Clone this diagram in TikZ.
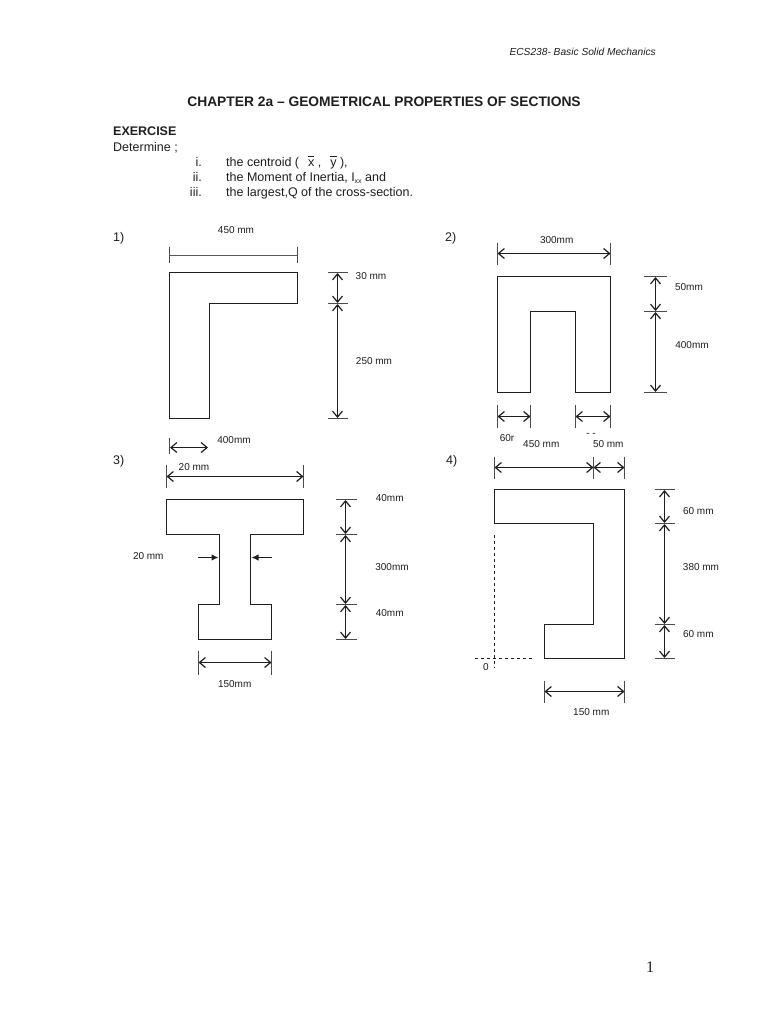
\documentclass[tikz,border=0pt]{standalone}
\usepackage{fontspec}
\setmainfont{Liberation Sans}
\newfontfamily\pagefont{Liberation Serif}
\usetikzlibrary{arrows.meta}
\definecolor{ink}{gray}{0.12}
\tikzset{
  outline/.style={draw=ink,line width=1.2pt,line join=miter},
  dimline/.style={draw=ink,line width=1.2pt,{Straight Barb[length=6pt,width=10pt,line width=1.2pt]}-{Straight Barb[length=6pt,width=10pt,line width=1.2pt]}},
  plainline/.style={draw=ink!75,line width=1.5pt},
  tick/.style={draw=ink!80,line width=1pt},
  pointer/.style={draw=ink,line width=1.2pt,-{Latex[length=7pt,width=6.5pt]}},
  datum/.style={draw=ink,line width=0.9pt,dash pattern=on 3pt off 3pt},
  lab/.style={inner sep=0pt,font=\fontsize{10}{12}\selectfont,text=ink,anchor=mid,yshift=-1pt},
  body/.style={inner sep=0pt,font=\fontsize{12.5}{14}\selectfont,text=ink,anchor=mid west,yshift=-2pt},
  numeral/.style={inner sep=0pt,font=\fontsize{12.5}{14}\selectfont,text=ink,anchor=mid east,yshift=-2pt},
}
% horizontal dimension: name, x1, x2, y, tick top, tick bottom
\newcommand{\hdim}[7][dimline]{%
  \coordinate (#2a) at (#3,#5);\coordinate (#2b) at (#4,#5);
  \draw[#1] (#2a) -- (#2b);
  \coordinate (#2at) at (#3,#6);\coordinate (#2ab) at (#3,#7);
  \coordinate (#2bt) at (#4,#6);\coordinate (#2bb) at (#4,#7);
  \draw[tick] (#2at) -- (#2ab);
  \draw[tick] (#2bt) -- (#2bb);
}
% vertical dimension: name, x, y1, y2
\newcommand{\vdim}[4]{%
  \coordinate (#1a) at (#2,#3);\coordinate (#1b) at (#2,#4);
  \draw[dimline] (#1a) -- (#1b);
}
% extension tick: name, x1, x2, y
\newcommand{\etick}[4]{%
  \coordinate (#1l) at (#2,#4);\coordinate (#1r) at (#3,#4);
  \draw[tick] (#1l) -- (#1r);
}
\newcommand{\barred}[1]{$\overline{\mbox{#1\rule{0pt}{9.5pt}}}$}
\begin{document}
\begin{tikzpicture}[x=1pt,y=-1pt]
\useasboundingbox[fill=white] (0,0) rectangle (768,1024);

% header
\node[lab,anchor=mid east,font=\fontsize{10.2}{12}\itshape] (hdr) at (656,51.5) {ECS238- Basic Solid Mechanics};
\node[inner sep=0pt,anchor=mid,text=ink,font=\fontsize{13.8}{15}\bfseries] (title) at (384,104) {CHAPTER 2a – GEOMETRICAL PROPERTIES OF SECTIONS};
\node[body,font=\fontsize{12.5}{14}\bfseries] (ex) at (113,131) {EXERCISE};
\node[body] (det) at (113,146.5) {Determine ;};
\node[numeral] (n1) at (202,162) {i.};
\node[numeral] (n2) at (202,177) {ii.};
\node[numeral] (n3) at (202,192) {iii.};
\node[body] (t1) at (226,162) {the centroid (\hspace{9pt}\barred{x} ,\hspace{9pt}\barred{y} ),};
\node[body] (t2) at (226,177) {the Moment of Inertia, I\raisebox{-1.5pt}{\fontsize{7}{7}\selectfont xx} and};
\node[body] (t3) at (226,192) {the largest,Q of the cross-section.};
\node[inner sep=0pt,text=ink,font=\pagefont\fontsize{16}{18}\selectfont] (pg) at (650,967) {1};

\node[body] (q1) at (113,237) {1)};
\node[body] (q2) at (445,237) {2)};
\node[body] (q3) at (113,460) {3)};
\node[body] (q4) at (446,460) {4)};

% Figure 1
\draw[outline] (169.5,272.5) -- (297.5,272.5) -- (297.5,303.5) -- (209.5,303.5) -- (209.5,418.5) -- (169.5,418.5) -- cycle;
\hdim[plainline]{d1}{169.5}{297.5}{255.5}{246.5}{262.5}
\etick{e1a}{327.5}{347.5}{272.5}
\etick{e1b}{327.5}{347.5}{303.5}
\etick{e1c}{327.5}{347.5}{418.5}
\vdim{v1a}{337.5}{273}{303}
\vdim{v1b}{337.5}{304}{418}
\coordinate (d2a) at (170,447.5);\coordinate (d2b) at (208,447.5);
\draw[dimline] (d2a) -- (d2b);
\coordinate (d2t) at (169.5,437.5);\coordinate (d2u) at (169.5,453.5);
\draw[tick] (d2t) -- (d2u);
\node[lab] (l450a) at (236,230) {450 mm};
\node[lab] (l30) at (371,276) {30 mm};
\node[lab] (l250) at (374,361) {250 mm};
\node[lab] (l400a) at (234,440) {400mm};

% Figure 2
\draw[outline] (497.5,276.5) -- (610.5,276.5) -- (610.5,392.5) -- (575.5,392.5) -- (575.5,311.5) -- (530.5,311.5) -- (530.5,392.5) -- (497.5,392.5) -- cycle;
\hdim{d3}{497.5}{610.5}{253.5}{242.5}{264.5}
\etick{e2a}{643.5}{666.5}{276.5}
\etick{e2b}{643.5}{666.5}{311.5}
\etick{e2c}{643.5}{666.5}{392.5}
\vdim{v2a}{655.5}{277}{311}
\vdim{v2b}{655.5}{312}{392}
\hdim{d4}{497.5}{530.5}{416.5}{404.5}{427.5}
\hdim{d5}{575.5}{610.5}{416.5}{404.5}{427.5}
\node[lab] (l300) at (556.7,240) {300mm};
\node[lab] (l50) at (689,286.7) {50mm};
\node[lab] (l400b) at (692,344.7) {400mm};
\node[lab] (l60r) at (507,438) {60r};
\node[lab] (lfrag) at (591,433) {- -};
\node[lab] (l450b) at (541.3,444) {450 mm};
\node[lab] (l50b) at (608.3,444) {50 mm};

% Figure 3
\draw[outline] (166.5,499.5) -- (303.5,499.5) -- (303.5,534.5) -- (250.5,534.5) -- (250.5,604.5) -- (271.5,604.5) -- (271.5,639.5) -- (198.5,639.5) -- (198.5,604.5) -- (219.5,604.5) -- (219.5,534.5) -- (166.5,534.5) -- cycle;
\hdim{d6}{166.5}{303.5}{476.5}{464.5}{487.5}
\coordinate (p1a) at (198,557.5);\coordinate (p1b) at (218.5,557.5);
\coordinate (p2a) at (272,557.5);\coordinate (p2b) at (251.5,557.5);
\draw[pointer] (p1a) -- (p1b);
\draw[pointer] (p2a) -- (p2b);
\etick{e3a}{335.5}{356.5}{499.5}
\etick{e3b}{335.5}{356.5}{534.5}
\etick{e3c}{335.5}{356.5}{604.5}
\etick{e3d}{335.5}{356.5}{639.5}
\vdim{v3a}{345.5}{500}{534}
\vdim{v3b}{345.5}{535}{604}
\vdim{v3c}{345.5}{605}{639}
\hdim{d7}{198.5}{271.5}{662.5}{650.5}{674.5}
\node[lab] (l20a) at (194,467) {20 mm};
\node[lab] (l20b) at (148.3,556) {20 mm};
\node[lab] (l40a) at (389.7,497.7) {40mm};
\node[lab] (l300b) at (392,567) {300mm};
\node[lab] (l40b) at (389.7,613) {40mm};
\node[lab] (l150a) at (234.7,684) {150mm};

% Figure 4
\draw[outline] (494.5,489.5) -- (624.5,489.5) -- (624.5,658.5) -- (544.5,658.5) -- (544.5,624.5) -- (593.5,624.5) -- (593.5,523.5) -- (494.5,523.5) -- cycle;
\hdim{d8}{494.5}{593.5}{467.5}{456.5}{478.5}
\hdim{d9}{593.5}{624.5}{467.5}{456.5}{478.5}
\etick{e4a}{654.5}{674.5}{489.5}
\etick{e4b}{654.5}{674.5}{523.5}
\etick{e4c}{654.5}{674.5}{624.5}
\etick{e4d}{654.5}{674.5}{658.5}
\vdim{v4a}{664.5}{490}{523}
\vdim{v4b}{664.5}{524}{624}
\vdim{v4c}{664.5}{625}{658}
\coordinate (o1a) at (494.5,534.5);\coordinate (o1b) at (494.5,668);
\coordinate (o2a) at (475,658.5);\coordinate (o2b) at (534.5,658.5);
\draw[datum] (o1a) -- (o1b);
\draw[datum] (o2a) -- (o2b);
\hdim{d10}{544.5}{624.5}{691.5}{680.5}{702.5}
\node[lab] (l60a) at (698.3,511.3) {60 mm};
\node[lab] (l380) at (701,567.3) {380 mm};
\node[lab] (l60b) at (698.3,634.3) {60 mm};
\node[lab] (l0) at (486,667.3) {0};
\node[lab] (l150b) at (591.3,712) {150 mm};
\end{tikzpicture}
\end{document}
